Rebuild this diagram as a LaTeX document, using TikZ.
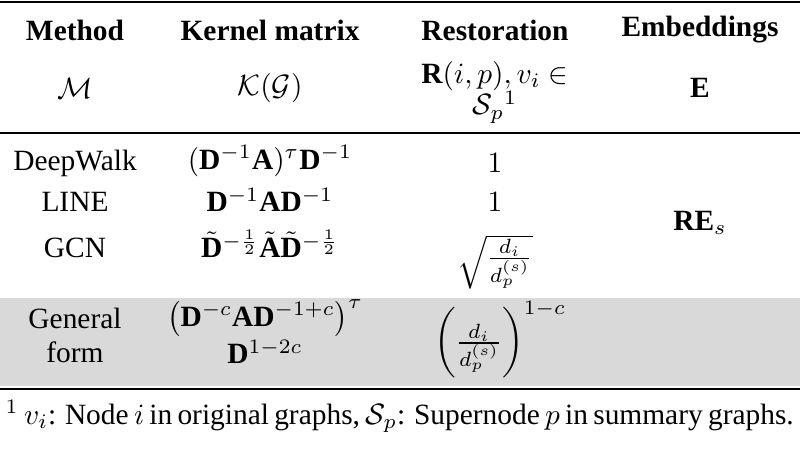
\documentclass[tikz,border=0pt]{standalone}
\usepackage{fontspec}
\usepackage{amsmath,amssymb}
\setmainfont{Liberation Serif}
\begin{document}
\begin{tikzpicture}[x=0.34pt,y=-0.34pt,
  t/.style={inner sep=0pt,anchor=center,font=\fontsize{10}{11.2}\selectfont},
  h/.style={t,font=\fontsize{10}{12}\selectfont\bfseries}]
\useasboundingbox (0,0) rectangle (800,470);
\fill[gray!30] (0,298) rectangle (800,386);
\draw[line width=1pt] (0,2) -- (800,2);
\draw[line width=0.6pt] (0,133) -- (800,133);
\draw[line width=1pt] (0,389) -- (800,389);
\node[h] (h1) at (75,30) {Method};
\node[h] (h2) at (270,30) {Kernel matrix};
\node[h] (h3) at (495,30) {Restoration};
\node[h] (h4) at (700,30) {Embeddings};
\node[t] (s1) at (75,88) {$\mathcal{M}$};
\node[t] (s2) at (270,88) {$\mathcal{K}(\mathcal{G})$};
\node[t] (s3a) at (495,76) {$\mathbf{R}(i,p), v_i\in$};
\node[t] (s3b) at (495,107) {$\mathcal{S}_p{}^1$};
\node[t] (s4) at (700,88) {$\mathbf{E}$};
\node[t] (m1) at (75,163) {DeepWalk};
\node[t] (m2) at (75,202) {LINE};
\node[t] (m3) at (75,248) {GCN};
\node[t] (k1) at (270,161) {$(\mathbf{D}^{-1}\mathbf{A})^{\tau}\mathbf{D}^{-1}$};
\node[t] (k2) at (270,200) {$\mathbf{D}^{-1}\mathbf{A}\mathbf{D}^{-1}$};
\node[t] (k3) at (270,244) {$\tilde{\mathbf{D}}^{-\frac{1}{2}}\tilde{\mathbf{A}}\tilde{\mathbf{D}}^{-\frac{1}{2}}$};
\node[t] (r1) at (495,163) {$1$};
\node[t] (r2) at (495,202) {$1$};
\node[t] (r3) at (495,262) {$\sqrt{\frac{d_i}{d_p^{(s)}}}$};
\node[t] (e1) at (700,223) {$\mathbf{R}\mathbf{E}_s$};
\node[t] (g1) at (75,318) {General};
\node[t] (g2) at (75,352) {form};
\node[t] (gk1) at (265,318) {$\bigl(\mathbf{D}^{-c}\mathbf{A}\mathbf{D}^{-1+c}\bigr)^{\tau}$};
\node[t] (gk2) at (265,352) {$\mathbf{D}^{1-2c}$};
\node[t] (gr) at (500,340) {$\left(\frac{d_i}{d_p^{(s)}}\right)^{1-c}$};
\node[t,anchor=north west,text width=268pt,align=justify] (fn) at (5,400)
  {$^{1}$ $v_i$: Node $i$ in original graphs, $\mathcal{S}_p$: Supernode $p$ in summary graphs.};
\end{tikzpicture}
\end{document}
